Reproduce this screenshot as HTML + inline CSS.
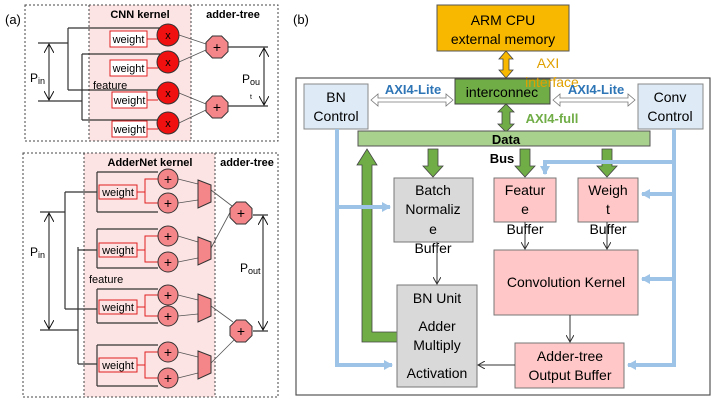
<!DOCTYPE html>
<html><head><meta charset="utf-8"><style>body{margin:0;background:#fff}svg{display:block}</style></head>
<body>
<svg width="720" height="405" viewBox="0 0 720 405" xmlns="http://www.w3.org/2000/svg" font-family="Liberation Sans, sans-serif">
<defs>
<marker id="ah" markerWidth="8" markerHeight="8" refX="7" refY="4" orient="auto" markerUnits="userSpaceOnUse"><path d="M0,0 L7,4 L0,8" fill="none" stroke="#333" stroke-width="1"/></marker>
<marker id="ab" markerWidth="10" markerHeight="10" refX="8" refY="5" orient="auto" markerUnits="userSpaceOnUse"><path d="M0,0 L9,5 L0,10 Z" fill="#9dc3e6"/></marker>
<marker id="ak" markerWidth="10" markerHeight="10" refX="8" refY="5" orient="auto-start-reverse" markerUnits="userSpaceOnUse"><path d="M0,0 L9,5 L0,10" fill="none" stroke="#111" stroke-width="1"/></marker>
<polygon id="oct" points="-4.6,-11 4.6,-11 11,-4.6 11,4.6 4.6,11 -4.6,11 -11,4.6 -11,-4.6" fill="#f4868a" stroke="#333" stroke-width="1"/>
</defs>

<!-- (a) top -->
<text x="5" y="24" font-size="13">(a)</text>
<rect x="89" y="5" width="102" height="136" fill="#fde4e4"/>
<rect x="25" y="5" width="253" height="136" fill="none" stroke="#444" stroke-dasharray="2,2"/>
<line x1="89" y1="5" x2="89" y2="141" stroke="#444" stroke-dasharray="2,2"/>
<line x1="191" y1="5" x2="191" y2="141" stroke="#444" stroke-dasharray="2,2"/>
<text x="140" y="18" font-size="11" font-weight="bold" text-anchor="middle">CNN kernel</text>
<text x="233" y="18" font-size="11" font-weight="bold" text-anchor="middle">adder-tree</text>
<g stroke="#333" stroke-width="1.2" fill="none">
<path d="M38,43 H68 M38,101 H82 M68,28 V90 M82,54 V120 M68,28 H160 M82,54 H160 M68,90 H160 M82,120 H160"/>
<path d="M228,47 H268 M228,106 H268"/>
</g>
<line x1="49" y1="45" x2="49" y2="99" stroke="#111" marker-start="url(#ak)" marker-end="url(#ak)"/>
<line x1="264" y1="49" x2="264" y2="104" stroke="#111" marker-start="url(#ak)" marker-end="url(#ak)"/>
<g stroke="#555" stroke-width="0.8"><path d="M179,35 L206,44 M179,62 L206,50 M179,93 L206,104 M179,123 L206,110"/></g>
<g font-size="11">
<g stroke="#e02020" fill="#fff"><rect x="110" y="31" width="37" height="16"/><rect x="110" y="60" width="37" height="16"/><rect x="112" y="92" width="35" height="16"/><rect x="112" y="121" width="35" height="16"/></g>
<g stroke="#e02020"><path d="M147,39 H158 M147,68 H158 M147,100 H158 M147,129 H158"/></g>
<text x="128.5" y="43" text-anchor="middle">weight</text><text x="128.5" y="72" text-anchor="middle">weight</text>
<text x="129.5" y="104" text-anchor="middle">weight</text><text x="129.5" y="133" text-anchor="middle">weight</text>
<g fill="#f01010" stroke="#333"><circle cx="168" cy="35" r="11"/><circle cx="168" cy="62" r="11"/><circle cx="168" cy="93" r="11"/><circle cx="168" cy="123" r="11"/></g>
<g text-anchor="middle" font-size="11"><text x="168" y="39">x</text><text x="168" y="66">x</text><text x="168" y="97">x</text><text x="168" y="127">x</text></g>
<use href="#oct" x="217" y="47"/><use href="#oct" x="217" y="107"/>
<text x="217" y="52" font-size="14" text-anchor="middle">+</text><text x="217" y="112" font-size="14" text-anchor="middle">+</text>
<text x="30" y="82" font-size="12">P<tspan font-size="9" dy="2">in</tspan></text>
<text x="93" y="89">feature</text>
<text x="242" y="83" font-size="12">P<tspan font-size="9" dy="2">ou</tspan></text>
<text x="250" y="99" font-size="7">t</text>
</g>

<!-- (a) bottom -->
<rect x="84" y="153" width="131" height="244" fill="#fde4e4"/>
<rect x="23" y="153" width="255" height="244" fill="none" stroke="#444" stroke-dasharray="2,2"/>
<line x1="84" y1="153" x2="84" y2="397" stroke="#444" stroke-dasharray="2,2"/>
<line x1="215" y1="153" x2="215" y2="397" stroke="#444" stroke-dasharray="2,2"/>
<text x="150" y="166" font-size="11" font-weight="bold" text-anchor="middle">AdderNet kernel</text>
<text x="247" y="166" font-size="11" font-weight="bold" text-anchor="middle">adder-tree</text>
<g stroke="#333" stroke-width="1.2" fill="none">
<path d="M40,212 H65 M40,330 H78 M65,192 V309 M78,247 V364 M65,192 H97 M78,250 H97 M65,309 H97 M78,364 H97"/>
<path d="M97,172 H158 M97,212 H158 M97,172 V212"/>
<path d="M97,229 H158 M97,268 H158 M97,229 V268"/>
<path d="M97,289 H158 M97,323 H158 M97,289 V323"/>
<path d="M97,345 H158 M97,386 H158 M97,345 V386"/>
<path d="M253,215 H268 M253,331 H268"/>
</g>
<line x1="49" y1="214" x2="49" y2="328" stroke="#111" marker-start="url(#ak)" marker-end="url(#ak)"/>
<line x1="263" y1="217" x2="263" y2="329" stroke="#111" marker-start="url(#ak)" marker-end="url(#ak)"/>
<g stroke="#555" stroke-width="0.8"><path d="M178,179 L198,184 M178,203 L198,200 M178,236 L198,242 M178,262 L198,258 M178,295 L198,300 M178,316 L198,314 M178,352 L198,357 M178,378 L198,373 M211,190 L232,206 M211,248 L234,205 M211,306 L233,322 M211,363 L234,340"/></g>
<g font-size="11">
<g stroke="#e02020" fill="none">
<path d="M137,192 H145 V179 H158 M145,192 V203 H158"/>
<path d="M137,250 H145 V236 H158 M145,250 V262 H158"/>
<path d="M137,307 H145 V295 H158 M145,307 V316 H158"/>
<path d="M137,365 H145 V352 H158 M145,365 V378 H158"/>
</g>
<g stroke="#e02020" fill="#fde4e4"><rect x="99" y="185" width="38" height="14"/><rect x="99" y="243" width="38" height="14"/><rect x="99" y="300" width="38" height="14"/><rect x="99" y="358" width="38" height="14"/></g>
<text x="118" y="196" text-anchor="middle">weight</text><text x="118" y="254" text-anchor="middle">weight</text><text x="118" y="311" text-anchor="middle">weight</text><text x="118" y="369" text-anchor="middle">weight</text>
<g fill="#f4868a" stroke="#333"><circle cx="168" cy="179" r="10"/><circle cx="168" cy="203" r="10"/><circle cx="168" cy="236" r="10"/><circle cx="168" cy="262" r="10"/><circle cx="168" cy="295" r="10"/><circle cx="168" cy="316" r="10"/><circle cx="168" cy="352" r="10"/><circle cx="168" cy="378" r="10"/></g>
<g font-size="14" text-anchor="middle"><text x="168" y="184">+</text><text x="168" y="208">+</text><text x="168" y="241">+</text><text x="168" y="267">+</text><text x="168" y="300">+</text><text x="168" y="321">+</text><text x="168" y="357">+</text><text x="168" y="383">+</text></g>
<g fill="#f4868a" stroke="#333"><polygon points="198,180 211,185 211,202 198,208"/><polygon points="198,237 211,242 211,259 198,265"/><polygon points="198,294 211,299 211,316 198,322"/><polygon points="198,351 211,356 211,373 198,379"/></g>
<use href="#oct" x="241" y="213"/><use href="#oct" x="241" y="331"/>
<text x="241" y="218" font-size="14" text-anchor="middle">+</text><text x="241" y="336" font-size="14" text-anchor="middle">+</text>
<text x="30" y="256" font-size="12">P<tspan font-size="9" dy="2">in</tspan></text>
<text x="89" y="283">feature</text>
<text x="240" y="272" font-size="12">P<tspan font-size="9" dy="2">out</tspan></text>
</g>

<!-- (b) -->
<g font-size="14">
<text x="293" y="24" font-size="13">(b)</text>
<rect x="437" y="5" width="132" height="46" fill="#f8b800" stroke="#555"/>
<text x="503" y="25" text-anchor="middle">ARM CPU</text>
<text x="503" y="44" text-anchor="middle">external memory</text>
<rect x="296" y="78" width="414" height="317" fill="none" stroke="#555" stroke-width="1.2"/>
<polygon points="506,51 513,59 509,59 509,70 513,70 506,78 499,70 503,70 503,59 499,59" fill="#f8b800" stroke="#444" stroke-width="0.8"/>
<rect x="455" y="79" width="95" height="25" fill="#70ad47" stroke="#444"/>
<text x="502" y="97" text-anchor="middle">interconnec</text>
<text x="548" y="68" fill="#e0a000" text-anchor="middle">AXI</text>
<text x="552" y="87" fill="#e0a000" text-anchor="middle">interface</text>
<rect x="304" y="84" width="64" height="45" fill="#deebf7" stroke="#888"/>
<text x="336" y="102" text-anchor="middle">BN</text><text x="336" y="121" text-anchor="middle">Control</text>
<rect x="638" y="84" width="65" height="45" fill="#deebf7" stroke="#888"/>
<text x="670" y="102" text-anchor="middle">Conv</text><text x="670" y="121" text-anchor="middle">Control</text>
<g fill="#fff" stroke="#777" stroke-width="0.8">
<polygon points="371,100 378,94 378,98 446,98 446,94 453,100 446,106 446,102 378,102 378,106"/>
<polygon points="553,100 560,94 560,98 628,98 628,94 635,100 628,106 628,102 560,102 560,106"/>
</g>
<text x="413" y="94" fill="#2e75b6" font-weight="bold" font-size="13" text-anchor="middle">AXI4-Lite</text>
<text x="596" y="94" fill="#2e75b6" font-weight="bold" font-size="13" text-anchor="middle">AXI4-Lite</text>
<polygon points="506,104 514,112 510,112 510,124 514,124 506,132 498,124 502,124 502,112 498,112" fill="#70ad47" stroke="#444" stroke-width="0.8"/>
<text x="552" y="123" fill="#70ad47" font-weight="bold" font-size="13" text-anchor="middle">AXI4-full</text>
<rect x="358" y="131" width="292" height="15" fill="#a9d18e" stroke="#555"/>
<text x="506" y="144" font-weight="bold" font-size="13" text-anchor="middle">Data</text>
<text x="502" y="163" font-weight="bold" font-size="13" text-anchor="middle">Bus</text>
<g fill="#70ad47" stroke="#444" stroke-width="0.8">
<polygon points="428,149 438,149 438,166 443,166 433,177 423,166 428,166"/>
<polygon points="520,149 530,149 530,166 535,166 525,177 515,166 520,166"/>
<polygon points="602,149 612,149 612,166 617,166 607,177 597,166 602,166"/>
<polygon points="362,165 362,342 397,342 397,332 372,332 372,165 377,165 367,149 357,165"/>
</g>
<g stroke="#9dc3e6" stroke-width="4" fill="none">
<path d="M337,129 V365 H392" marker-end="url(#ab)"/>
<path d="M337,207 H390" marker-end="url(#ab)"/>
<path d="M674,129 V365 H628" marker-end="url(#ab)"/>
<path d="M674,194 H642" marker-end="url(#ab)"/>
<path d="M674,279 H642" marker-end="url(#ab)"/>
<path d="M674,162 H545 V174" marker-end="url(#ab)"/>
</g>
<rect x="394" y="178" width="79" height="64" fill="#d9d9d9" stroke="#777"/>
<text x="433" y="195" text-anchor="middle">Batch</text><text x="433" y="214" text-anchor="middle">Normaliz</text><text x="433" y="234" text-anchor="middle">e</text><text x="433" y="253" text-anchor="middle">Buffer</text>
<rect x="494" y="178" width="62" height="44" fill="#ffc7c7" stroke="#777"/>
<text x="525" y="195" text-anchor="middle">Featur</text><text x="525" y="214" text-anchor="middle">e</text><text x="525" y="234" text-anchor="middle">Buffer</text>
<rect x="578" y="178" width="60" height="44" fill="#ffc7c7" stroke="#777"/>
<text x="608" y="195" text-anchor="middle">Weigh</text><text x="608" y="214" text-anchor="middle">t</text><text x="608" y="234" text-anchor="middle">Buffer</text>
<rect x="494" y="250" width="144" height="65" fill="#ffc7c7" stroke="#777"/>
<text x="566" y="287" text-anchor="middle">Convolution Kernel</text>
<rect x="397" y="285" width="80" height="102" fill="#d9d9d9" stroke="#777"/>
<text x="437" y="303" text-anchor="middle">BN Unit</text><text x="437" y="331" text-anchor="middle">Adder</text><text x="437" y="350" text-anchor="middle">Multiply</text><text x="437" y="378" text-anchor="middle">Activation</text>
<rect x="515" y="343" width="109" height="45" fill="#ffc7c7" stroke="#777"/>
<text x="570" y="361" text-anchor="middle">Adder-tree</text><text x="570" y="380" text-anchor="middle">Output Buffer</text>
<g stroke="#333" stroke-width="1">
<line x1="437" y1="242" x2="437" y2="284" marker-end="url(#ah)"/>
<line x1="525" y1="222" x2="525" y2="249" marker-end="url(#ah)"/>
<line x1="607" y1="222" x2="607" y2="249" marker-end="url(#ah)"/>
<line x1="570" y1="315" x2="570" y2="342" marker-end="url(#ah)"/>
<line x1="515" y1="365" x2="478" y2="365" marker-end="url(#ah)"/>
</g>
</g>
</svg>
</body></html>
